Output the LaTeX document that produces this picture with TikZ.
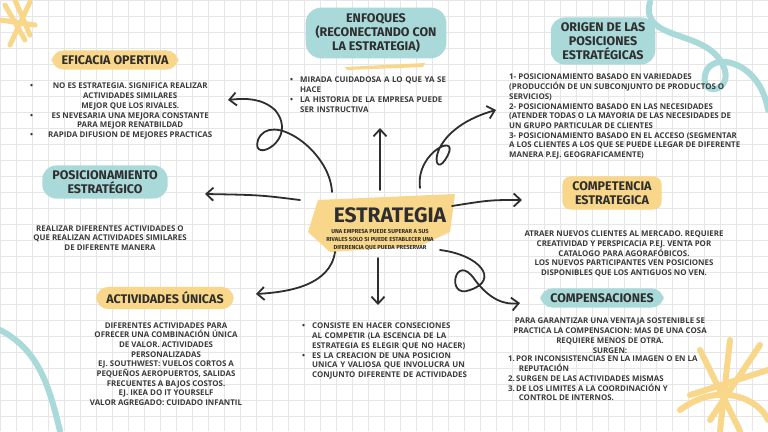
\documentclass[tikz,border=0pt]{standalone}
\usepackage{fontspec}
\setmainfont{Open Sans}
\newfontfamily\titlefont{Fira Sans}
\usetikzlibrary{arrows.meta,shapes.geometric}
\definecolor{ylw}{HTML}{F8D68A}
\definecolor{tea}{HTML}{A9D9D9}
\definecolor{ink}{HTML}{2E2E2E}
\definecolor{txt}{HTML}{3A3A3A}
\definecolor{gridc}{HTML}{E6E6E6}
\hyphenpenalty=10000 \exhyphenpenalty=10000
\tikzset{
  ttl/.style={font=\titlefont\bfseries\fontsize{12.5}{14}\selectfont, text=ink, align=center, rounded corners=12pt, inner xsep=10pt, inner ysep=5pt},
  ypill/.style={ttl, fill=ylw},
  tpill/.style={ttl, fill=tea},
  body/.style={font=\bfseries\fontsize{7.9}{9.7}\selectfont, text=txt, align=center, inner sep=0pt},
  bodyl/.style={font=\bfseries\fontsize{7.9}{9.7}\selectfont, text=txt, align=left, inner sep=0pt},
  arr/.style={line width=1.8pt, draw=ink, line cap=round, -{Straight Barb[length=7pt,width=13pt,line width=1.8pt]}},
  deco/.style={line width=5pt, line cap=round, line join=round},
}
\newcommand{\bul}[1]{\hangindent=10pt\hangafter=1\noindent\makebox[10pt][l]{\textbullet}#1\par}
\begin{document}
\begin{tikzpicture}[x=1pt,y=-1pt]
\useasboundingbox (0,0) rectangle (768,431);
\fill[white] (0,0) rectangle (768,431);
\foreach \i in {0,16,...,768} \draw[gridc, line width=0.5pt] (\i,0) -- (\i,431);
\foreach \j in {0,16,...,431} \draw[gridc, line width=0.5pt] (0,\j) -- (768,\j);
% decorations
\draw[deco, ylw] (5,5) -- (25,40) (15,0) -- (30,35) (0,20) -- (35,25) (30,2) -- (10,45);
\draw[deco, tea, line width=6pt] (650,2) .. controls (640,40) and (700,30) .. (720,60) .. controls (740,90) and (700,100) .. (705,75) .. controls (710,50) and (760,60) .. (768,110);
\draw[deco, tea, line width=6pt] (0,330) .. controls (40,350) and (50,390) .. (60,431);
\draw[deco, ylw, line width=6pt] (700,350) -- (740,431) (690,395) -- (768,370) (710,420) -- (760,345) (680,410) .. controls (720,380) and (760,400) .. (768,420) (730,340) -- (720,431);
% center
\fill[ylw] (318,200) -- (455,194) -- (450,232) -- (420,246) -- (330,252) -- (308,232) -- cycle;
\node[font=\titlefont\bfseries\fontsize{21}{23}\selectfont, text=ink, inner sep=0pt] (hub) at (390,215) {ESTRATEGIA};
\node[font=\titlefont\bfseries\fontsize{5.8}{8}\selectfont, text=ink, align=center, inner sep=0pt] (sub) at (380,240) {UNA EMPRESA PUEDE SUPERAR A SUS\\RIVALES SOLO SI PUEDE ESTABLECER UNA\\DIFERENCIA QUE PUEDA PRESERVAR};
% titles
\node[ypill] (efi) at (115,60) {EFICACIA OPERTIVA};
\node[tpill, rounded corners=16pt, inner ysep=6pt] (enf) at (376,33) {ENFOQUES\\(RECONECTANDO CON\\LA ESTRATEGIA)};
\fill[ylw] (345,67) -- (425,63) -- (423,67) -- (347,70) -- cycle;
\node[tpill, rounded corners=14pt, inner ysep=5pt] (ori) at (603,41) {ORIGEN DE LAS\\POSICIONES\\ESTRATÉGICAS};
\node[tpill, rounded corners=14pt] (pos) at (105,182) {POSICIONAMIENTO\\ESTRATÉGICO};
\node[ypill, rounded corners=8pt] (com) at (612,193) {COMPETENCIA\\ESTRATEGICA};
\node[ypill] (act) at (165,298) {ACTIVIDADES ÚNICAS};
\node[tpill] (cmp) at (602,298) {COMPENSACIONES};
% bodies
\node[bodyl, anchor=north west] (efit) at (30,83) {%
\makebox[8pt][l]{\textbullet}\makebox[184pt][c]{NO ES ESTRATEGIA. SIGNIFICA REALIZAR}\\
\makebox[8pt][l]{}\makebox[184pt][c]{ACTIVIDADES SIMILARES}\\
\makebox[8pt][l]{}\makebox[184pt][c]{MEJOR QUE LOS RIVALES.}\\
\makebox[8pt][l]{\textbullet}\makebox[184pt][c]{ES NEVESARIA UNA MEJORA CONSTANTE}\\
\makebox[8pt][l]{}\makebox[184pt][c]{PARA MEJOR RENATBILDAD}\\
\makebox[8pt][l]{\textbullet}\makebox[184pt][c]{RAPIDA DIFUSION DE MEJORES PRACTICAS}};
\node[bodyl, text width=165pt, anchor=north west] (enft) at (290,77) {%
\bul{MIRADA CUIDADOSA A LO QUE YA SE HACE}\bul{LA HISTORIA DE LA EMPRESA PUEDE SER INSTRUCTIVA}};
\node[bodyl, anchor=north west] (orit) at (509,74) {1- POSICIONAMIENTO BASADO EN VARIEDADES\\(PRODUCCIÓN DE UN SUBCONJUNTO DE PRODUCTOS O\\SERVICIOS)\\2- POSICIONAMIENTO BASADO EN LAS NECESIDADES\\(ATENDER TODAS O LA MAYORIA DE LAS NECESIDADES DE\\UN GRUPO PARTICULAR DE CLIENTES\\3- POSICIONAMIENTO BASADO EN EL ACCESO (SEGMENTAR\\A LOS CLIENTES A LOS QUE SE PUEDE LLEGAR DE DIFERENTE\\MANERA P.EJ. GEOGRAFICAMENTE)};
\node[body] (post) at (110,238) {REALIZAR DIFERENTES ACTIVIDADES  O\\QUE REALIZAN ACTIVIDADES SIMILARES\\DE DIFERENTE MANERA};
\node[body] (comt) at (624,254) {ATRAER NUEVOS CLIENTES AL MERCADO. REQUIERE\\CREATIVIDAD Y PERSPICACIA P.EJ. VENTA POR\\CATALOGO PARA AGORAFÓBICOS.\\LOS NUEVOS PARTICIPANTES VEN POSICIONES\\DISPONIBLES QUE LOS ANTIGUOS NO VEN.};
\node[body] (actt) at (166,364) {DIFERENTES ACTIVIDADES PARA\\OFRECER UNA COMBINACIÓN ÚNICA\\DE VALOR. ACTIVIDADES\\PERSONALIZADAS\\EJ. SOUTHWEST: VUELOS CORTOS A\\PEQUEÑOS AEROPUERTOS, SALIDAS\\FRECUENTES A BAJOS COSTOS.\\EJ. IKEA DO IT YOURSELF\\VALOR AGREGADO: CUIDADO INFANTIL};
\node[bodyl, text width=166pt, anchor=north west] (cont) at (302,323) {%
\bul{CONSISTE EN HACER CONSECIONES AL COMPETIR (LA ESCENCIA DE LA ESTRATEGIA ES ELEGIR QUE NO HACER)}\bul{ES LA CREACION DE UNA POSICION UNICA Y VALIOSA QUE INVOLUCRA UN CONJUNTO DIFERENTE DE ACTIVIDADES}};
\node[body, anchor=north] (cmpt1) at (610,318) {PARA GARANTIZAR UNA VENTAJA SOSTENIBLE SE\\PRACTICA LA COMPENSACION: MAS DE UNA COSA\\REQUIERE MENOS DE OTRA.\\SURGEN:};
\node[bodyl, anchor=north west] (cmpt2) at (506,356) {%
\makebox[10pt][r]{1.\,}POR INCONSISTENCIAS EN LA IMAGEN O EN LA\\\makebox[10pt]{}\,\,REPUTACIÓN\\\makebox[10pt][r]{2.\,}SURGEN DE LAS ACTIVIDADES MISMAS\\\makebox[10pt][r]{3.\,}DE LOS LIMITES A LA COORDINACIÓN Y\\\makebox[10pt]{}\,\,CONTROL DE INTERNOS.};
% arrows
\coordinate (h1) at (300,200); \coordinate (t1) at (205,194);
\draw[arr] (h1) .. controls (260,195) .. (t1);
\coordinate (h2) at (332,192); \coordinate (t2) at (228,100);
\draw[arr] (h2) .. controls (330,150) and (270,110) .. (258,140) .. controls (250,165) and (300,140) .. (275,110) .. controls (262,98) and (245,98) .. (t2);
\coordinate (h3) at (380,190); \coordinate (t3) at (380,128);
\draw[arr] (h3) -- (t3);
\coordinate (h4) at (420,188); \coordinate (t4) at (496,110);
\draw[arr] (h4) .. controls (415,150) and (465,130) .. (445,160) .. controls (432,180) and (425,130) .. (t4);
\coordinate (h5) at (452,206); \coordinate (t5) at (522,200);
\draw[arr] (h5) .. controls (490,200) .. (t5);
\coordinate (h6) at (335,252); \coordinate (t6) at (256,294);
\draw[arr] (h6) .. controls (330,285) and (290,292) .. (t6);
\coordinate (h7) at (378,258); \coordinate (t7) at (378,305);
\draw[arr] (h7) -- (t7);
\coordinate (h8) at (440,250); \coordinate (t8) at (520,303);
\draw[arr] (h8) .. controls (480,255) and (500,280) .. (470,290) .. controls (445,300) and (455,250) .. (475,280) .. controls (490,300) and (505,305) .. (t8);
\end{tikzpicture}
\end{document}
